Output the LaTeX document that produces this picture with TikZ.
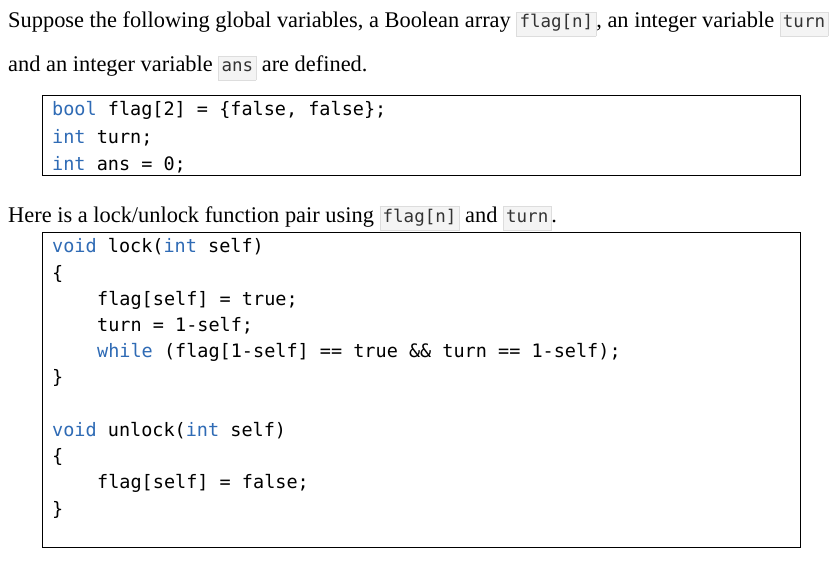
\documentclass[tikz,border=0pt]{standalone}
\usepackage{fontspec}
\setmainfont{Liberation Serif}
\setmonofont{DejaVu Sans Mono}
\definecolor{kw}{HTML}{2F6BB5}
\definecolor{icbg}{HTML}{F4F4F4}
\definecolor{icbd}{HTML}{DDDDDD}
\definecolor{ictx}{HTML}{333333}
\newcommand{\ic}[1]{{\setlength{\fboxsep}{2.5pt}\setlength{\fboxrule}{0.6pt}\fcolorbox{icbd}{icbg}{\fontsize{17.5}{19}\selectfont\ttfamily\color{ictx}\strut #1}}}
\newcommand{\kw}[1]{\textcolor{kw}{#1}}
\begin{document}
\begin{tikzpicture}[x=1pt,y=-1pt,
  para/.style={anchor=base west,inner sep=0pt,font=\fontsize{22.4}{26}\selectfont},
  code/.style={anchor=base west,inner sep=0pt,font=\fontsize{18.5}{22}\selectfont\ttfamily},
  box/.style={draw=black,line width=0.9pt}]
\useasboundingbox[fill=white] (0,0) rectangle (834,575);
\node[para] (p1) at (8,28) {Suppose the following global variables, a Boolean array \ic{flag[n]}, an integer variable \ic{turn}};
\node[para] (p2) at (8,72) {and an integer variable \ic{ans} are defined.};
\draw[box] (42,95) rectangle (800,175);
\node[code] (a1) at (52,116) {\kw{bool} flag[2] = \{false, false\};};
\node[code] (a2) at (52,143) {\kw{int} turn;};
\node[code] (a3) at (52,170) {\kw{int} ans = 0;};
\node[para] (p3) at (8,222) {Here is a lock/unlock function pair using \ic{flag[n]} and \ic{turn}.};
\draw[box] (42,232) rectangle (800,547);
\node[code] (b1) at (52,252) {\kw{void} lock(\kw{int} self)};
\node[code] (b2) at (52,279) {\{};
\node[code] (b3) at (97,305) {flag[self] = true;};
\node[code] (b4) at (97,331) {turn = 1-self;};
\node[code] (b5) at (97,357) {\kw{while} (flag[1-self] == true \&\& turn == 1-self);};
\node[code] (b6) at (52,383) {\}};
\node[code] (b7) at (52,436) {\kw{void} unlock(\kw{int} self)};
\node[code] (b8) at (52,462) {\{};
\node[code] (b9) at (97,488) {flag[self] = false;};
\node[code] (b10) at (52,515) {\}};
\end{tikzpicture}
\end{document}
